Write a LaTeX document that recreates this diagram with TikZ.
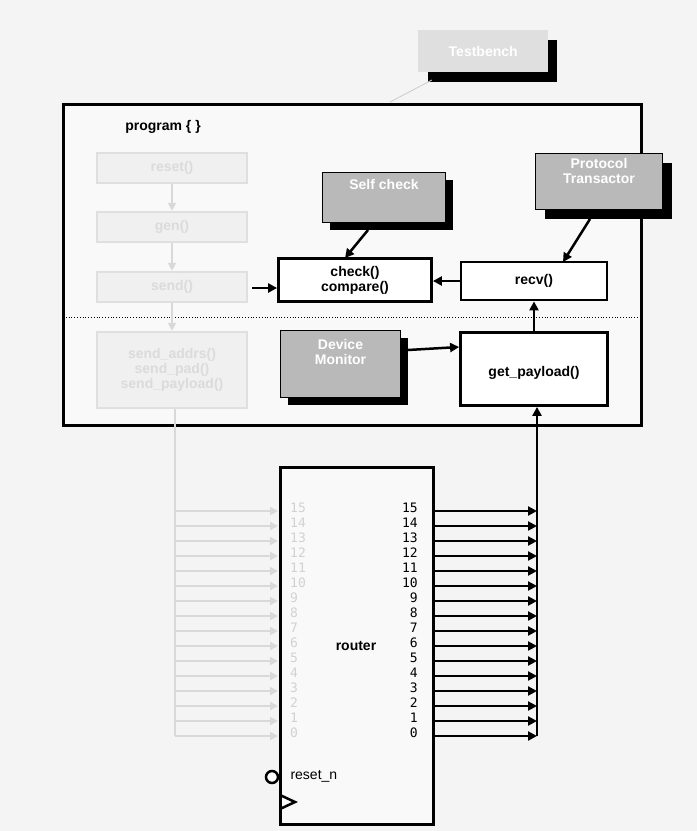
\documentclass[tikz,border=0pt]{standalone}
\usepackage{fontspec}
\setmainfont{Liberation Sans}
\newfontfamily\monof{DejaVu Sans Mono}
\usetikzlibrary{arrows.meta}
\begin{document}
\begin{tikzpicture}[x=1pt,y=-1pt,
  ghost/.style={draw=gray!25,fill=gray!12,line width=2.5pt,text=gray!28,font=\bfseries\fontsize{14}{15}\selectfont,align=center},
  fbox/.style={draw=black,fill=white,line width=2.8pt,font=\bfseries\fontsize{14}{15}\selectfont,align=center},
  gbox/.style={draw=black,fill=gray!55,line width=1pt,text=white,font=\bfseries\fontsize{14}{15}\selectfont,align=center},
  arr/.style={line width=2.5pt,-{Triangle[length=9pt,width=9pt]}},
  garr/.style={draw=gray!30,line width=2.5pt,-{Triangle[length=8pt,width=8pt]}},
]
\fill[gray!9] (0,0) rectangle (697,831);
\useasboundingbox (0,0) rectangle (697,831);
% Testbench
\fill[black] (428,40) rectangle (557,82);
\node[draw=none,fill=gray!25,text=white,font=\bfseries\fontsize{14}{15}\selectfont,minimum width=130pt,minimum height=42pt,anchor=north west] (tb) at (418,30) {Testbench};
\coordinate (tbl) at (390,102);
\draw[gray!40,line width=0.8pt] (tbl) -- (432,80);
% program box
\draw[line width=3pt,fill=gray!5] (63,104) rectangle (641,425);
\node[font=\bfseries\fontsize{14}{15}\selectfont] (prog) at (163,127) {program \{ \}};
\draw[dotted,line width=0.8pt] (63,317) -- (641,317);
% ghost column
\node[ghost,minimum width=150pt,minimum height=30pt] (reset) at (172,168) {reset()};
\node[ghost,minimum width=150pt,minimum height=30pt] (gen) at (172,227) {gen()};
\node[ghost,minimum width=150pt,minimum height=30pt] (send) at (172,287) {send()};
\node[ghost,minimum width=150pt,minimum height=76pt] (sp) at (172,370) {send\_addrs()\\send\_pad()\\send\_payload()};
\draw[garr] (reset) -- (gen);
\draw[garr] (gen) -- (send);
\draw[garr] (send) -- (sp);
% functional boxes
\node[fbox,minimum width=153pt,minimum height=43pt] (check) at (355,280) {check()\\compare()};
\node[fbox,minimum width=146pt,minimum height=38pt] (recv) at (534,281) {recv()};
\node[fbox,minimum width=147pt,minimum height=73pt] (gp) at (534,369) {\\[2pt]get\_payload()};
% gray boxes with shadows
\fill[black] (330,180) rectangle (453,230);
\node[gbox,minimum width=123pt,minimum height=50pt,anchor=north west] (sc) at (322,172) {Self check\\[12pt]};
\fill[black] (545,163) rectangle (672,219);
\node[gbox,minimum width=127pt,minimum height=56pt,anchor=north west] (pt) at (535,153) {Protocol\\Transactor\\[6pt]};
\fill[black] (288,338) rectangle (408,405);
\node[gbox,minimum width=120pt,minimum height=67pt,anchor=north west] (dm) at (280,330) {Device\\Monitor\\[10pt]};
% arrows
\draw[arr] (252,288) -- (check.west |- 0,288);
\draw[arr] (recv.west) -- (check.east |- recv.west);
\draw[arr] (368,230) -- (345,258);
\draw[arr] (590,219) -- (563,262);
\draw[arr] (gp.north) -- (recv.south);
\draw[arr] (408,350) -- (gp.west |- 0,347);
% router
\node[draw,line width=3pt,fill=gray!5,minimum width=153pt,minimum height=357pt,anchor=north west] (router) at (279,466) {};
\node[font=\bfseries\fontsize{14}{15}\selectfont] (rl) at (356,646) {router};
\coordinate (busb) at (537,736);
\draw[line width=2.5pt] (busb) -- (537,420);
\draw[arr] (537,420) -- (gp.south -| 537,0);
\draw[draw=gray!30,line width=2.5pt] (sp.south -| 175,0) -- (175,736);
\foreach \i in {0,...,15}{
  \pgfmathsetmacro\yy{736-15*\i}
  \draw[arr] (432,\yy) -- (537,\yy);
  \node[anchor=east,font=\monof\fontsize{13}{14}\selectfont,inner sep=0pt] at (418,\yy-3) {\i};
  \draw[garr] (175,\yy) -- (278,\yy);
  \node[anchor=west,font=\monof\fontsize{13}{14}\selectfont,text=gray!35,inner sep=0pt] at (290,\yy-3) {\i};
}
\draw[line width=2.5pt,fill=white] (272,777) circle (6);
\node[anchor=west,font=\fontsize{14}{15}\selectfont] (rn) at (287,776) {reset\_n};
\draw[line width=2.5pt] (280,795) -- (295,802) -- (280,809);
\end{tikzpicture}
\end{document}
